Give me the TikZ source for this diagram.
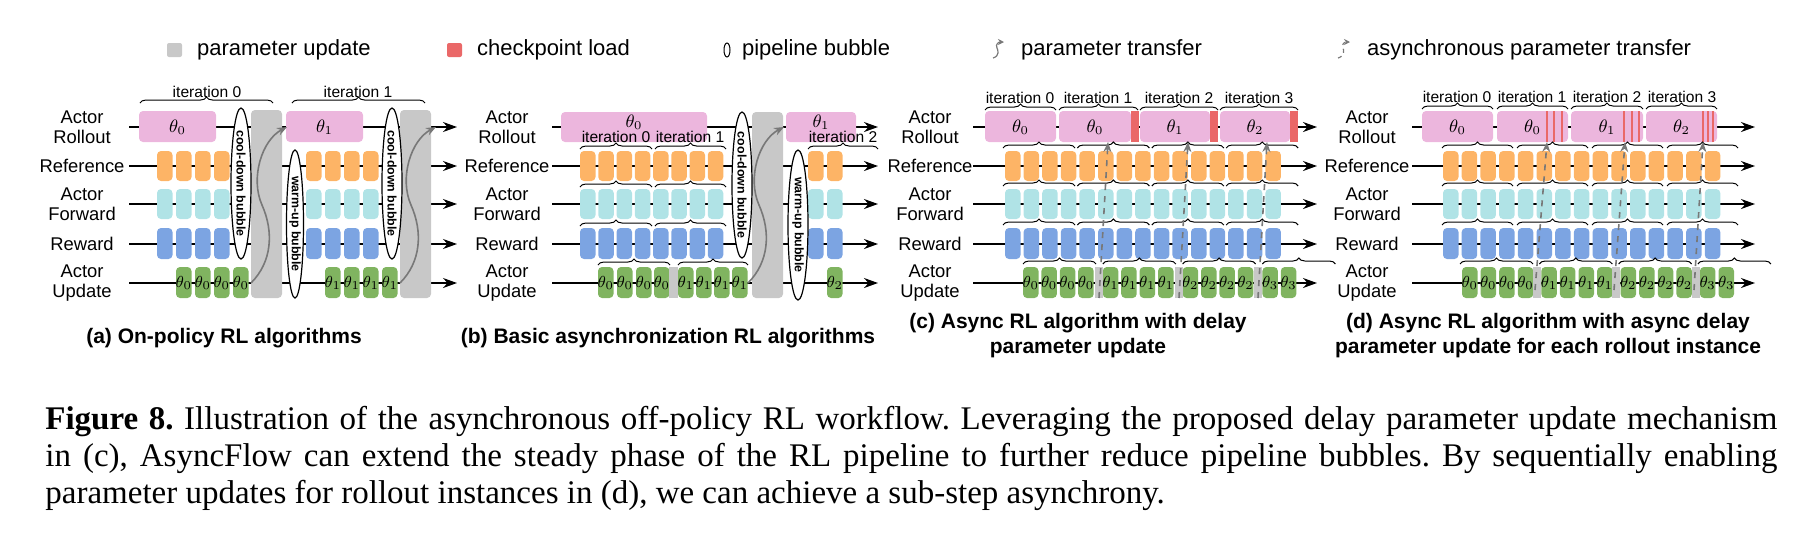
\documentclass[tikz,border=0pt]{standalone}
\usepackage{fontspec}
\setmainfont{Liberation Serif}
\newfontfamily\hsans{Liberation Sans}
\usetikzlibrary{decorations.pathreplacing,arrows.meta}
\definecolor{cpink}{RGB}{236,182,221}
\definecolor{corange}{RGB}{253,180,102}
\definecolor{ccyan}{RGB}{176,227,230}
\definecolor{cblue}{RGB}{124,164,226}
\definecolor{cgreen}{RGB}{128,180,96}
\definecolor{cgray}{RGB}{200,200,200}
\definecolor{cred}{RGB}{234,104,104}
\definecolor{carr}{RGB}{120,120,120}
\tikzset{
 bx/.style={rounded corners=2pt,draw=none},
 row/.style={line width=0.7pt,-{Stealth[length=7pt,width=5pt]}},
 lab/.style={font=\hsans\fontsize{9.2}{10}\selectfont,align=center},
 it/.style={font=\hsans\fontsize{7.8}{8}\selectfont},
 br/.style={decorate,decoration={brace,amplitude=3pt},line width=0.5pt},
 bub/.style={draw,line width=0.6pt,fill=white},
 bubt/.style={font=\hsans\bfseries\fontsize{6.2}{7}\selectfont,rotate=-90},
 th/.style={font=\fontsize{8}{8}\selectfont,inner sep=0},
 thb/.style={font=\fontsize{9}{9}\selectfont,inner sep=0},
 tr/.style={carr,line width=0.8pt,-{Stealth[length=5pt,width=4pt]}},
 dtr/.style={carr,line width=0.8pt,dashed,-{Stealth[length=5pt,width=4pt]}},
 pcap/.style={font=\hsans\bfseries\fontsize{10.5}{12.5}\selectfont,align=center},
 leg/.style={font=\hsans\fontsize{11}{12}\selectfont,anchor=west},
}
\newcommand\pb[4]{\fill[bx,#1] (#2,#3) rectangle ++(15.5,#4);}
\begin{document}
\frenchspacing
\begin{tikzpicture}[x=0.5pt,y=-0.5pt]
\useasboundingbox (0,0) rectangle (1796,548);
% legend
\fill[cgray,rounded corners=1pt] (167,43) rectangle (182,57);
\node[leg] (l1) at (190,50) {parameter update};
\fill[cred,rounded corners=1pt] (447,43) rectangle (462,57);
\node[leg] (l2) at (470,50) {checkpoint load};
\draw[line width=0.5pt] (727,50) ellipse (3 and 7);
\node[leg] (l3) at (735,50) {pipeline bubble};
\draw[tr,line width=0.6pt,-{Stealth[length=3pt,width=3pt]}] (993,58) .. controls (1000,56) and (998,50) .. (997,48) .. controls (995,44) and (999,42) .. (1004,42);
\node[leg] (l4) at (1014,50) {parameter transfer};
\draw[dtr,line width=0.6pt,dash pattern=on 2pt off 2pt,-{Stealth[length=3pt,width=3pt]}] (1338,58) .. controls (1345,56) and (1344,50) .. (1343,48) .. controls (1341,44) and (1345,42) .. (1350,42);
\node[leg] (l5) at (1360,50) {asynchronous parameter transfer};

% ---------- row labels ----------
\foreach \cx/\nm in {82/a,507/b,930/c,1367/d}{
 \node[lab] (ar\nm) at (\cx,127) {Actor\\Rollout};
 \node[lab] (rf\nm) at (\cx,166) {Reference};
 \node[lab] (af\nm) at (\cx,204) {Actor\\Forward};
 \node[lab] (rw\nm) at (\cx,244) {Reward};
 \node[lab] (au\nm) at (\cx,283) {Actor\\Update};
}

% ================= (a) =================
\foreach \y in {127,166,204,244,283} \draw[row] (129,\y) -- (457,\y);
\fill[bx,cpink] (139,111) rectangle (216,142); \node[thb] at (177.5,127) {$\theta_0$};
\fill[bx,cpink] (286,111) rectangle (363,142); \node[thb] at (324.5,127) {$\theta_1$};
\foreach \s in {157,176,195,214,306,325,344,363}{
 \pb{corange}{\s}{151}{30} \pb{ccyan}{\s}{189}{30} \pb{cblue}{\s}{228}{31}}
\foreach \s in {176,195,214,233}{\pb{cgreen}{\s}{267}{31} \node[th] at (\s+7.75,283) {$\theta_0$};}
\foreach \s in {325,344,363,382}{\pb{cgreen}{\s}{267}{31} \node[th] at (\s+7.75,283) {$\theta_1$};}
\fill[bx,cgray] (251,110) rectangle (282,298);
\fill[bx,cgray] (400,110) rectangle (431,298);
\draw[bub] (241,183.5) ellipse (10 and 75.5); \node[bubt] at (241,183.5) {cool-down bubble};
\draw[bub] (392,183.5) ellipse (10 and 75.5); \node[bubt] at (392,183.5) {cool-down bubble};
\draw[bub] (295,224) ellipse (8.5 and 74); \node[bubt] at (295,224) {warm-up bubble};
\draw[tr] (251,283) .. controls (272,262) and (274,232) .. (262,205) .. controls (250,178) and (262,140) .. (287,127);
\draw[tr] (400,283) .. controls (421,262) and (423,232) .. (411,205) .. controls (399,178) and (411,140) .. (436,127);
\node[it] at (207,92) {iteration 0};
\draw[br] (140,103) -- (273,103);
\node[it] at (358,92) {iteration 1};
\draw[br] (292,103) -- (425,103);
\node[pcap] at (224,338) {(a) On-policy RL algorithms};

% ================= (b) =================
\foreach \y in {127,166,204,244,283} \draw[row] (552,\y) -- (878,\y);
\fill[bx,cpink] (561,112) rectangle (707,142); \node[thb] at (634,122) {$\theta_0$};
\fill[bx,cpink] (786,112) rectangle (856,142); \node[thb] at (821,122) {$\theta_1$};
\foreach \k in {0,...,7}{
 \pgfmathsetmacro\s{580+18.25*\k}
 \pb{corange}{\s}{151}{30} \pb{ccyan}{\s}{189}{30} \pb{cblue}{\s}{228}{31}}
\foreach \s in {808,827}{\pb{corange}{\s}{151}{30} \pb{ccyan}{\s}{189}{30} \pb{cblue}{\s}{228}{31}}
\foreach \s in {598,617,636,654}{\pb{cgreen}{\s}{267}{31} \node[th] at (\s+7.75,283) {$\theta_0$};}
\fill[cgray] (669,267) rectangle (678,298);
\foreach \s in {678,696,714,732}{\pb{cgreen}{\s}{267}{31} \node[th] at (\s+7.75,283) {$\theta_1$};}
\pb{cgreen}{827}{267}{31} \node[th] at (834.75,283) {$\theta_2$};
\foreach \y in {149,187,226}{\draw[br] (580,\y) -- (652,\y); \draw[br] (655,\y) -- (726,\y);}
\draw[br] (808,149) -- (878,149);
\draw[br] (598,265) -- (670,265); \draw[br] (678,265) -- (748,265);
\node[it] at (616,137) {iteration 0};
\node[it] at (690,137) {iteration 1};
\node[it] at (843,137) {iteration 2};
\fill[bx,cgray] (752,112) rectangle (783,298);
\draw[bub] (742,185) ellipse (10 and 73); \node[bubt] at (742,185) {cool-down bubble};
\draw[bub] (798,225) ellipse (10 and 75); \node[bubt] at (798,225) {warm-up bubble};
\draw[tr] (748,283) .. controls (769,262) and (771,232) .. (759,205) .. controls (747,178) and (759,140) .. (784,127);
\node[pcap] at (668,338) {(b) Basic asynchronization RL algorithms};

% ================= (c) =================
\foreach \y in {127,166,204,244,283} \draw[row] (973,\y) -- (1317,\y);
\foreach \a/\b/\t in {985/1056/0,1059/1131/0,1140/1210/1,1220/1290/2}{
 \fill[bx,cpink] (\a,111) rectangle (\b,142); \node[thb] at ({(\a+\b)/2},127) {$\theta_\t$};}
\foreach \a in {1131,1210,1290}{\fill[cred] (\a,111) rectangle ++(8,31);}
\draw[br] (985,110) -- (1056,110); \draw[br] (1059,110) -- (1138,110);
\draw[br] (1140,110) -- (1218,110); \draw[br] (1220,110) -- (1298,110);
\node[it] at (1020,98) {iteration 0}; \node[it] at (1098,98) {iteration 1};
\node[it] at (1179,98) {iteration 2}; \node[it] at (1259,98) {iteration 3};
\foreach \k in {0,...,14}{
 \pgfmathsetmacro\s{1005+18.6*\k}
 \pb{corange}{\s}{151}{30} \pb{ccyan}{\s}{189}{30} \pb{cblue}{\s}{228}{31}}
\foreach \g in {0,...,3}{
 \pgfmathsetmacro\s{1003+74.4*\g}
 \foreach \y in {148,186,225}{\draw[br] (\s,\y) -- (\s+72,\y);}}
\foreach \g/\n in {0/4,1/4,2/4,3/2}{
 \pgfmathsetmacro\s{1023+79.8*\g}
 \foreach \j in {1,...,\n}{
  \pgfmathsetmacro\q{\s+18.4*(\j-1)}
  \pb{cgreen}{\q}{267}{31} \node[th] at (\q+7.75,283) {$\theta_{\g}$};}
 \draw[br] (\s,264) -- (\s+73,264);}
\foreach \a in {1095,1175,1254}{\fill[cgray] (\a,267) rectangle ++(8,31);}
\draw[dtr] (1099,298) -- (1108,142);
\draw[dtr] (1179,298) -- (1188,142);
\draw[dtr] (1258,298) -- (1267,142);
\node[pcap] at (1078,336) {(c) Async RL algorithm with delay\\parameter update};

% ================= (d) =================
\foreach \y in {127,166,204,244,283} \draw[row] (1412,\y) -- (1755,\y);
\foreach \a/\b/\t in {1422/1493/0,1497/1568/0,1571/1643/1,1646/1717/2}{
 \fill[bx,cpink] (\a,111) rectangle (\b,142); \node[thb] at ({(\a+\b)/2},127) {$\theta_\t$};
 \draw[br] (\a,109) -- (\b,109);}
\foreach \x in {1547,1554,1562,1624,1632,1639,1703,1708,1713}{\draw[cred,line width=0.9pt] (\x,111) -- (\x,142);}
\node[it] at (1457,97) {iteration 0}; \node[it] at (1532,97) {iteration 1};
\node[it] at (1607,97) {iteration 2}; \node[it] at (1682,97) {iteration 3};
\foreach \k in {0,...,14}{
 \pgfmathsetmacro\s{1443+18.7*\k}
 \pb{corange}{\s}{151}{30} \pb{ccyan}{\s}{189}{30} \pb{cblue}{\s}{228}{31}}
\foreach \g in {0,...,3}{
 \pgfmathsetmacro\s{1442+75*\g}
 \foreach \y in {148,186,225}{\draw[br] (\s,\y) -- (\s+71,\y);}}
\foreach \g/\n in {0/4,1/4,2/4,3/2}{
 \pgfmathsetmacro\s{1462+79.3*\g}
 \foreach \j in {1,...,\n}{
  \pgfmathsetmacro\q{\s+18.6*(\j-1)}
  \pb{cgreen}{\q}{267}{31} \node[th] at (\q+7.75,283) {$\theta_{\g}$};}
 \draw[br] (\s-2,264) -- (\s+71,264);}
\foreach \a in {1533,1612,1692}{\fill[cgray] (\a,267) rectangle ++(8,31);}
\draw[dtr] (1535,290) -- (1547,142);
\draw[dtr] (1614,290) -- (1625,142);
\draw[dtr] (1694,290) -- (1703,142);
\node[pcap] at (1548,336) {(d) Async RL algorithm with async delay\\parameter update for each rollout instance};

% ================= caption =================
\node[anchor=north west,inner sep=0,text width=866pt,font=\fontsize{16.5}{18.5}\selectfont,align=justify] (fig) at (45,406)
{\textbf{Figure 8.} Illustration of the asynchronous off-policy RL workflow. Leveraging the proposed delay parameter update mechanism\linebreak in (c), AsyncFlow can extend the steady phase of the RL pipeline to further reduce pipeline bubbles. By sequentially enabling\linebreak parameter updates for rollout instances in (d), we can achieve a sub-step asynchrony.};
\end{tikzpicture}
\end{document}
